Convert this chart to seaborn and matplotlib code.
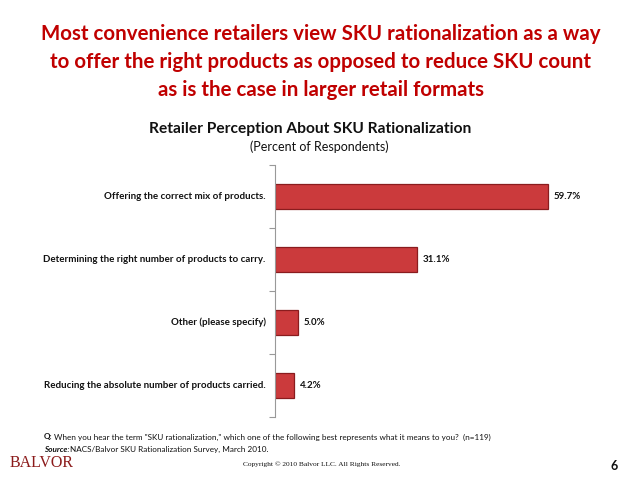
import matplotlib
matplotlib.use("Agg")
import matplotlib.pyplot as plt
import seaborn as sns
import pandas as pd

categories = [
    "Offering the correct mix of products.",
    "Determining the right number of products to carry.",
    "Other (please specify)",
    "Reducing the absolute number of products carried.",
]
values = [59.7, 31.1, 5.0, 4.2]
value_labels = ["59.7%", "31.1%", "5.0%", "4.2%"]

sns.set_theme(style="white")
plt.rcParams['font.family'] = ['Lato', 'DejaVu Sans']

df = pd.DataFrame({"cat": categories, "val": values})

fig = plt.figure(figsize=(6.38, 4.78), dpi=100)
ax = fig.add_axes([275/638, 1-417/478, 320/638, (417-165)/478])

sns.barplot(data=df, y="cat", x="val", ax=ax, color="#CB3A3C", width=0.41,
            edgecolor="#8A1C1E", linewidth=0.9, saturation=1)

ax.set_xlim(0, 70)
ax.set_ylim(3.5, -0.5)
ax.set_xlabel("")
ax.set_ylabel("")
ax.set_xticks([])
ax.set_yticks([-0.5, 0.5, 1.5, 2.5, 3.5], minor=False)
ax.set_yticklabels([])
ax.tick_params(axis="y", which="major", length=4, width=0.8, color="#999999", left=True, direction="out")
for i, c in enumerate(categories):
    ax.text(-2.0, i, c, ha="right", va="center", fontsize=7, fontweight="bold", color="#111111")
for i, (v, lab) in enumerate(zip(values, value_labels)):
    ax.text(v + 1.3, i, lab, ha="left", va="center", fontsize=7, fontweight="bold", color="#111111")

for s in ["top", "right", "bottom"]:
    ax.spines[s].set_visible(False)
ax.spines["left"].set_color("#999999")
ax.spines["left"].set_linewidth(0.8)

title_kw = dict(ha="center", va="center", fontsize=14.8, fontweight="bold", color="#C00000")
fig.text(321/638, 1-34/478, "Most convenience retailers view SKU rationalization as a way", **title_kw)
fig.text(321/638, 1-62/478, "to offer the right products as opposed to reduce SKU count", **title_kw)
fig.text(321/638, 1-90/478, "as is the case in larger retail formats", **title_kw)
fig.text(310/638, 1-129/478, "Retailer Perception About SKU Rationalization",
         ha="center", va="center", fontsize=11.2, fontweight="bold", color="#111111")
fig.text(319/638, 1-147/478, "(Percent of Respondents)",
         ha="center", va="center", fontsize=9, color="#111111")

fig.text(44/638, 1-437/478, "Q:", ha="left", va="center", fontsize=5.9, fontweight="bold", color="#111111")
fig.text(54/638, 1-437/478, "When you hear the term \"SKU rationalization,\" which one of the following best represents what it means to you?  (n=119)",
         ha="left", va="center", fontsize=5.9, color="#111111")
fig.text(44/638, 1-449/478, "Source:", ha="left", va="center", fontsize=5.9, fontweight="bold", style="italic", color="#111111")
fig.text(70/638, 1-449/478, "NACS/Balvor SKU Rationalization Survey, March 2010.",
         ha="left", va="center", fontsize=5.9, color="#111111")
fig.text(10/638, 1-463/478, "BALVOR", ha="left", va="center", fontsize=11.5,
         family=["Liberation Serif", "DejaVu Serif"], color="#8B1A1A")
fig.text(322/638, 1-464/478, "Copyright \u00a9 2010 Balvor LLC. All Rights Reserved.", ha="center", va="center",
         fontsize=5.3, family=["Liberation Serif", "DejaVu Serif"], color="#111111")
fig.text(614/638, 1-466/478, "6", ha="center", va="center", fontsize=9, fontweight="bold", color="#111111")

fig.savefig("out.png", dpi=100)
